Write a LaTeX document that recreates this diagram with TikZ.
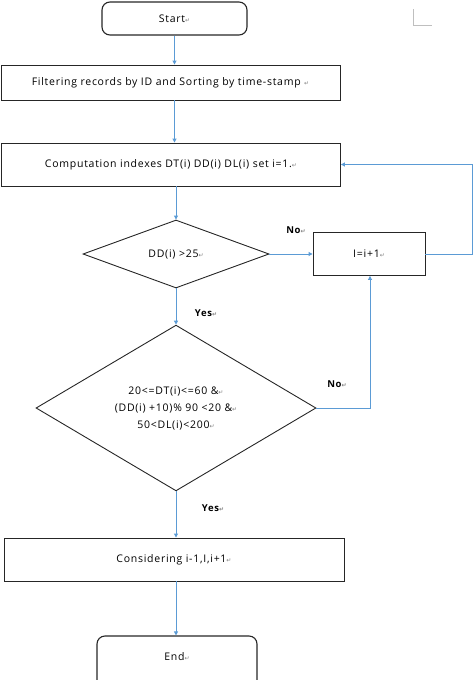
\documentclass[tikz,border=0pt]{standalone}
\usepackage{fontspec}
\setmainfont{Open Sans}[LetterSpace=7]
\newfontfamily\symfont{DejaVu Sans}
\usetikzlibrary{shapes.geometric,arrows.meta}
\definecolor{flowblue}{RGB}{91,155,213}
\newcommand{\parmark}{{\symfont\fontsize{6}{6}\selectfont\color{gray}↵}}
\begin{document}
\begin{tikzpicture}[x=1pt,y=-1pt,
  every node/.style={font=\fontsize{10.5}{17}\selectfont},
  box/.style={draw=black!85, line width=0.9pt, rectangle, inner sep=0pt},
  term/.style={box, rounded corners=8pt, line width=1.1pt},
  dec/.style={draw=black!85, line width=0.9pt, diamond, inner sep=0pt, align=center},
  flow/.style={draw=flowblue, line width=0.9pt, -{Triangle[length=4pt,width=4pt]}},
  lbl/.style={font=\bfseries\fontsize{9.5}{11}\selectfont}]
\clip (0,0) rectangle (474,680);
\useasboundingbox (0,0) rectangle (474,680);
% page corner mark
\draw[black!25, line width=0.6pt] (413,9) -- (413,25) -- (432,25);
% nodes
\node[term, minimum width=145pt, minimum height=33pt] (start) at (174.5,18.5) {Start\parmark};
\node[box, minimum width=339pt, minimum height=35pt] (filter) at (170.5,82.5) {Filtering records by ID and Sorting by time-stamp \parmark};
\node[box, minimum width=339pt, minimum height=43pt] (comp) at (171,164.5) {Computation indexes DT(i) DD(i) DL(i) set i=1.\parmark};
\node[dec, minimum width=186pt, minimum height=68pt] (d1) at (176,254) {DD(i) >25\parmark};
\node[box, minimum width=112pt, minimum height=43pt] (inc) at (369,254) {I=i+1\parmark};
\node[dec, minimum width=280pt, minimum height=150pt] (d2) at (176,408) {20<=DT(i)<=60 \&\parmark\\(DD(i) +10)\% 90 <20 \&\parmark\\50<DL(i)<200\parmark};
\node[box, minimum width=340pt, minimum height=43pt] (cons) at (174,559.5) {Considering i-1,I,i+1\parmark};
\node[term, minimum width=160pt, minimum height=52pt] (end) at (177,662) {};
\node at (177,657) (endtxt) {End\parmark};
% labels
\node[lbl] (no1) at (296,230) {No\parmark};
\node[lbl] (yes1) at (206,313) {Yes\parmark};
\node[lbl] (no2) at (337,384) {No\parmark};
\node[lbl] (yes2) at (213,508) {Yes\parmark};
% helper coordinates
\coordinate (r) at (472,0);
\coordinate (u) at (370,0);
% connectors
\draw[flow] (start.south) -- (start.south |- filter.north);
\draw[flow] (start.south |- filter.south) -- (start.south |- comp.north);
\draw[flow] (d1.north |- comp.south) -- (d1.north);
\draw[flow] (d1.east) -- (d1.east -| inc.west);
\draw[flow] (inc.east) -- (inc.east -| r) |- (comp.east);
\draw[flow] (d1.south) -- (d2.north);
\draw[flow] (d2.east) -- (d2.east -| u) -- (u |- inc.south);
\draw[flow] (d2.south) -- (d2.south |- cons.north);
\draw[flow] (d2.south |- cons.south) -- (d2.south |- end.north);
\end{tikzpicture}
\end{document}
